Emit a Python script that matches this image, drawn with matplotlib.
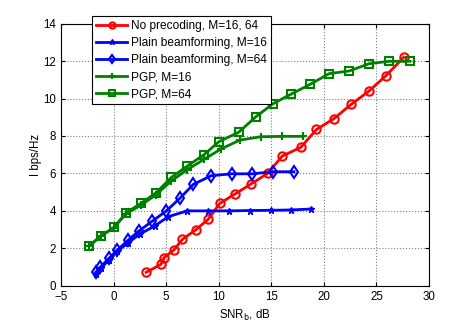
import matplotlib.pyplot as plt

# SNR_b (dB) and rate (bps/Hz)
snr_noprec = [3.1, 4.5, 4.8, 5.75, 6.55, 7.8, 9.0, 10.1, 11.55, 13.05, 14.65, 16.05, 17.8, 19.3, 20.95, 22.6, 24.3, 25.9, 27.6]
rate_noprec = [0.72, 1.14, 1.5, 1.92, 2.48, 2.98, 3.55, 4.4, 4.9, 5.43, 6.0, 6.93, 7.39, 8.35, 8.92, 9.69, 10.4, 11.22, 12.2]

snr_bf16 = [-1.7, -1.2, -0.4, 0.35, 1.4, 2.5, 3.9, 5.2, 7.0, 9.0, 11.0, 13.0, 14.95, 16.9, 18.8]
rate_bf16 = [0.65, 0.95, 1.4, 1.85, 2.3, 2.76, 3.19, 3.69, 4.0, 4.0, 4.0, 4.02, 4.03, 4.05, 4.1]

snr_bf64 = [-1.7, -1.25, -0.45, 0.35, 1.4, 2.4, 3.7, 5.0, 6.3, 7.6, 9.3, 11.25, 13.2, 15.15, 17.15]
rate_bf64 = [0.72, 1.0, 1.46, 1.9, 2.44, 2.92, 3.46, 3.99, 4.67, 5.42, 5.88, 5.98, 5.98, 6.09, 6.09]

snr_pgp16 = [-2.3, -1.2, 0.0, 1.2, 2.6, 4.0, 5.5, 7.0, 8.6, 10.2, 12.0, 14.0, 16.0, 18.0]
rate_pgp16 = [2.14, 2.66, 3.1, 3.85, 4.3, 4.85, 5.6, 6.2, 6.75, 7.3, 7.78, 7.96, 7.98, 7.98]

snr_pgp64 = [-2.3, -1.2, 0.05, 1.2, 2.6, 4.05, 5.5, 7.0, 8.6, 10.0, 11.9, 13.5, 15.15, 16.9, 18.7, 20.5, 22.4, 24.3, 26.2, 28.2]
rate_pgp64 = [2.14, 2.66, 3.12, 3.9, 4.4, 4.97, 5.79, 6.39, 7.0, 7.69, 8.2, 9.01, 9.72, 10.24, 10.76, 11.33, 11.47, 11.86, 11.99, 11.99]

labels = ["No precoding, M=16, 64", "Plain beamforming, M=16", "Plain beamforming, M=64", "PGP, M=16", "PGP, M=64"]

plt.rcParams['font.family'] = ['Liberation Sans', 'DejaVu Sans']
plt.rcParams['font.size'] = 8.3

fig = plt.figure(figsize=(4.74, 3.24), dpi=100)
ax = fig.add_axes([0.1287, 0.118, 0.7763, 0.809])

red = (1, 0, 0)
blue = (0, 0, 1)
green = (0, 0.5, 0)

ax.plot(snr_noprec, rate_noprec, '-o', color=red, lw=2, ms=6, mfc='none', mew=1.5, label=labels[0])
ax.plot(snr_bf16, rate_bf16, '-*', color=blue, lw=2, ms=5, label=labels[1])
ax.plot(snr_bf64, rate_bf64, '-d', color=blue, lw=2, ms=6, mfc='none', mew=1.5, label=labels[2])
ax.plot(snr_pgp16, rate_pgp16, '-+', color=green, lw=2, ms=6, mew=1.5, label=labels[3])
ax.plot(snr_pgp64, rate_pgp64, '-s', color=green, lw=2, ms=5.5, mfc='none', mew=1.5, label=labels[4])

ax.set_xlim(-5, 30)
ax.set_ylim(0, 14)
ax.set_xticks(range(-5, 31, 5))
ax.set_yticks(range(0, 15, 2))
ax.grid(True, linestyle=':', color='gray', lw=0.8)
ax.tick_params(direction='in', top=True, right=True, length=3)
ax.set_xlabel("SNR$_\\mathrm{b}$, dB")
ax.set_ylabel("I bps/Hz", labelpad=1)

leg = ax.legend(loc='upper left', bbox_to_anchor=(0.084, 1.03), borderaxespad=0, fontsize=8.6,
                fancybox=False, edgecolor='black', framealpha=1, handlelength=2.6, markerscale=0.75,
                borderpad=0.35, labelspacing=0.42, handletextpad=0.3)
leg.get_frame().set_linewidth(0.8)

fig.savefig("out.png", dpi=100)
